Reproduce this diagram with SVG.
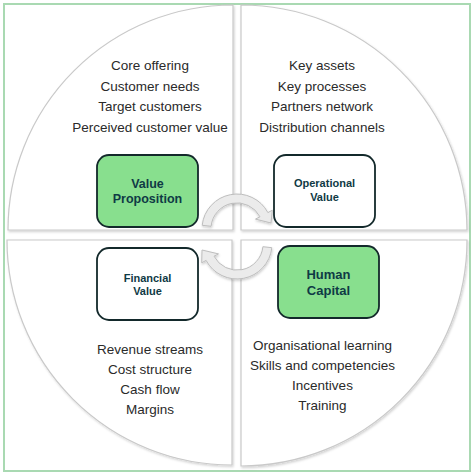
<svg xmlns="http://www.w3.org/2000/svg" width="474" height="475" viewBox="0 0 474 475">
<style>
.quad{fill:#ffffff;stroke:#c9c9c9;stroke-width:1.2;filter:url(#sh)}
.list{font-family:"Liberation Sans",Arial,sans-serif;font-size:13.5px;fill:#2a2a2a;text-anchor:middle}
.box{stroke:#13292b;stroke-width:1.8}
.green{fill:#88df8e}
.white{fill:#ffffff}
.lbl{font-family:"Liberation Sans",Arial,sans-serif;font-weight:bold;fill:#0f3a45;text-anchor:middle}
.arrow{fill:#ebebeb;stroke:#bdbdbd;stroke-width:1;filter:url(#sh2)}
</style>
<defs>
<filter id="sh" x="-5%" y="-5%" width="110%" height="110%">
<feDropShadow dx="1" dy="1.5" stdDeviation="1" flood-color="#000" flood-opacity="0.18"/>
</filter>
<filter id="sh2" x="-20%" y="-20%" width="140%" height="140%">
<feDropShadow dx="0.5" dy="1.5" stdDeviation="1" flood-color="#000" flood-opacity="0.2"/>
</filter>
</defs>
<rect x="0" y="0" width="474" height="475" fill="#ffffff"/>
<rect x="4" y="4" width="466" height="467" fill="#ffffff" stroke="#a9d9b2" stroke-width="2"/>
<g id="quadrants">
<path class="quad" d="M233 230 L8 230 A225 225 0 0 1 233 5 Z"/>
<path class="quad" d="M241 230 L241 5 A226 226 0 0 1 467 230 Z"/>
<path class="quad" d="M232 240 L232 465 A225 225 0 0 1 7 240 Z"/>
<path class="quad" d="M241 240 L467 240 A226 226 0 0 1 241 466 Z"/>
</g>
<g id="list-value" class="list">
<text x="150" y="70">Core offering</text>
<text x="150" y="90.5">Customer needs</text>
<text x="150" y="111">Target customers</text>
<text x="150" y="131.5">Perceived customer value</text>
</g>
<g id="list-operational" class="list">
<text x="322" y="70">Key assets</text>
<text x="322" y="90.5">Key processes</text>
<text x="322" y="111">Partners network</text>
<text x="322" y="131.5">Distribution channels</text>
</g>
<g id="list-financial" class="list">
<text x="150" y="354">Revenue streams</text>
<text x="150" y="374">Cost structure</text>
<text x="150" y="394">Cash flow</text>
<text x="150" y="414">Margins</text>
</g>
<g id="list-human" class="list">
<text x="322.5" y="350">Organisational learning</text>
<text x="322.5" y="370">Skills and competencies</text>
<text x="322.5" y="390">Incentives</text>
<text x="322.5" y="410">Training</text>
</g>
<g id="connectors">
<path class="arrow" d="M202.2 225.3 A35 35 0 0 1 267.9 212.6 L272.3 210.2 L271 223 L255.5 219.1 L260 216.8 A26 26 0 0 0 211.1 226.3 Z"/>
<path class="arrow" d="M271.8 247.7 A35 35 0 0 1 206.1 260.4 L201.7 262.8 L202 250 L218.5 253.9 L214 256.2 A26 26 0 0 0 262.9 246.7 Z"/>
</g>
<g id="value-proposition">
<rect class="box green" x="97" y="155" width="101" height="72" rx="12"/>
<text class="lbl" x="147.5" y="188" font-size="12.5">Value</text>
<text class="lbl" x="147.5" y="203" font-size="12.5">Proposition</text>
</g>
<g id="operational-value">
<rect class="box white" x="274" y="155" width="101" height="72" rx="12"/>
<text class="lbl" x="324.5" y="187" font-size="11">Operational</text>
<text class="lbl" x="324.5" y="201" font-size="11">Value</text>
</g>
<g id="financial-value">
<rect class="box white" x="97" y="248" width="101" height="72" rx="12"/>
<text class="lbl" x="147.5" y="282" font-size="11">Financial</text>
<text class="lbl" x="147.5" y="295" font-size="11">Value</text>
</g>
<g id="human-capital">
<rect class="box green" x="278" y="246" width="101" height="72" rx="12"/>
<text class="lbl" x="328.5" y="278.5" font-size="13">Human</text>
<text class="lbl" x="328.5" y="294.5" font-size="13">Capital</text>
</g>
</svg>
